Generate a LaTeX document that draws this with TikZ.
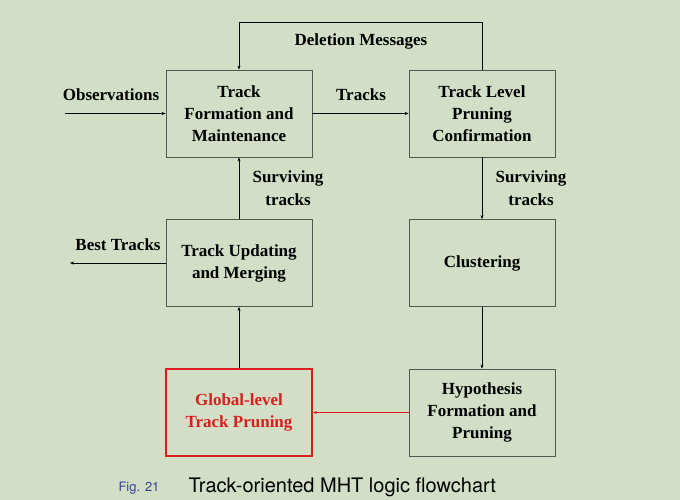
\documentclass[tikz,border=0pt]{standalone}
\usepackage{fontspec}
\setmainfont{Liberation Serif}
\setsansfont{TeX Gyre Heros}
\usetikzlibrary{arrows.meta}
\definecolor{bg}{HTML}{D2DFC6}
\definecolor{boxline}{HTML}{505850}
\definecolor{redc}{HTML}{D81E1E}
\definecolor{figblue}{HTML}{3A3F9A}
\begin{document}
\begin{tikzpicture}[x=1pt,y=-1pt,
  box/.style={draw=boxline,line width=0.8pt,minimum width=146pt,minimum height=87pt,align=center,font=\bfseries\fontsize{17}{22}\selectfont,inner sep=0pt},
  lab/.style={font=\bfseries\fontsize{17}{22}\selectfont,align=center},
  arr/.style={-{Stealth[length=4pt,width=3pt]},line width=0.5pt}]
\fill[bg] (0,0) rectangle (680,500);
\node[box] (tfm) at (239,113.5) {Track\\Formation and\\Maintenance};
\node[box] (tlp) at (482,113.5) {Track Level\\Pruning\\Confirmation};
\node[box] (tum) at (239,263) {Track Updating\\and Merging};
\node[box] (clu) at (482,263) {Clustering};
\node[box,draw=redc,line width=1.8pt,text=redc] (glo) at (239,412.5) {Global-level\\Track Pruning};
\node[box] (hyp) at (482,412.5) {Hypothesis\\Formation and\\Pruning};
\coordinate (obs) at (65,113.5);
\coordinate (best) at (70,263);
\coordinate (d1) at (482,22);
\coordinate (d2) at (239,22);
\draw[arr] (obs) -- (tfm);
\draw[arr] (tfm) -- (tlp);
\draw[arr] (tlp.north) -- (d1) -- (d2) -- (tfm.north);
\draw[arr] (tlp) -- (clu);
\draw[arr] (clu) -- (hyp);
\draw[arr,redc] (hyp) -- (glo);
\draw[arr] (glo) -- (tum);
\draw[arr] (tum) -- (tfm);
\draw[arr] (tum) -- (best);
\node[lab] (lobs) at (111,95) {Observations};
\node[lab] (ltr) at (361,95) {Tracks};
\node[lab] (ldel) at (361,41) {Deletion Messages};
\node[lab,font=\bfseries\fontsize{17}{23}\selectfont] (ls1) at (288,188) {Surviving\\tracks};
\node[lab,font=\bfseries\fontsize{17}{23}\selectfont] (ls2) at (531,188) {Surviving\\tracks};
\node[lab] (lbest) at (118,245) {Best Tracks};
\node[font=\sffamily\fontsize{13}{15}\selectfont,text=figblue] (fig) at (139,488) {Fig. 21};
\node[font=\sffamily\fontsize{20}{24}\selectfont,anchor=west] (cap) at (185,487) {Track-oriented MHT logic flowchart};
\end{tikzpicture}
\end{document}
